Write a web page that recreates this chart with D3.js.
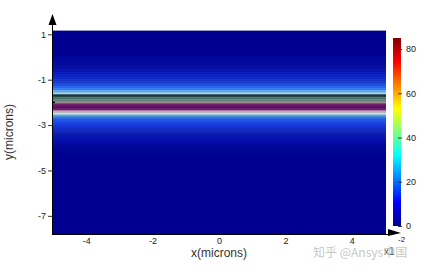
<!DOCTYPE html>
<html>
<head>
<meta charset="utf-8">
<script src="https://cdn.jsdelivr.net/npm/d3@7"></script>
<style>
	body { margin: 0; background: #fff; }
	text { font-family: "Liberation Sans", Arial, sans-serif; }
</style>
</head>
<body>
<div id="chart"></div>
<script>

// mode profile across y (microns), uniform in x
const rowY = [0.0, -0.1, -0.2, -0.3, -0.4, -0.5, -0.6, -0.7, -0.8, -0.9,
	-1.0, -1.1, -1.2, -1.3, -1.4, -1.5, -1.6, -1.7, -1.8, -1.9,
	-2.0, -2.1, -2.2, -2.3, -2.4, -2.5, -2.6, -2.7, -2.8, -2.9,
	-3.0, -3.1, -3.2, -3.3, -3.4, -3.5, -3.6, -3.7, -3.8, -3.9,
	-4.0, -4.1, -4.2];
const rowValue = [1.5, 2, 2.5, 3, 4, 5, 6, 7.5, 9, 11,
	13, 16, 20, 24, 28, 33, 38, 44, 50, 54,
	60, 78, 84, 78, 70, 40, 31, 26, 22, 19,
	16, 14, 12, 10, 8, 6.5, 5, 4, 3, 2.5,
	2, 1.5, 1];

const xTicks = [-4, -2, 0, 2, 4];
const yTicks = [1, -1, -3, -5, -7];
const cbTicks = [0, 20, 40, 60, 80];

// palette as it appears in the rendered field
const fieldStops = [0, 5, 10, 16, 22, 28, 33, 38, 42, 44, 47, 52, 60, 70, 76, 85];
const fieldColors = ['#000090', '#0814b0', '#1028cc', '#1a40e0', '#2458f0', '#3c80f8', '#68b0f8',
	'#a8dcf0', '#d0f4f4', '#183838', '#406860', '#5a8a80', '#a09498', '#dcaab8', '#7a2878', '#601060'];

// jet for the colour bar
const jetStops = [0, 0.125, 0.375, 0.625, 0.875, 1];
const jetColors = ['#00008f', '#0000ff', '#00ffff', '#ffff00', '#ff0000', '#800000'];

const W = 429, H = 272;
const plot = { left: 52, right: 386, top: 30, bottom: 234 };

const svg = d3.select('#chart').append('svg')
	.attr('width', W)
	.attr('height', H);

const scaleX = d3.scaleLinear().domain([-5.03, 5.03]).range([plot.left, plot.right]);
const scaleY = d3.scaleLinear().domain([1.19, -7.8]).range([plot.top, plot.bottom]);
const fieldColor = d3.scaleLinear().domain(fieldStops).range(fieldColors).clamp(true);

const rowH = Math.abs(scaleY(0) - scaleY(0.1));
const fieldW = scaleX(5.03) - scaleX(-5.03);

// background field (value 0)
svg.append('rect')
	.attr('x', scaleX(-5.03))
	.attr('y', scaleY(1.19))
	.attr('width', fieldW)
	.attr('height', scaleY(-7.8) - scaleY(1.19))
	.attr('fill', fieldColor(0));

let rows = svg.append('g').selectAll('g')
	.data(rowY)
	.enter().append('g');

rows.append('rect')
	.attr('x', scaleX(-5.03))
	.attr('y', (d) => scaleY(d) - rowH / 2)
	.attr('width', fieldW)
	.attr('height', rowH + 0.3)
	.attr('fill', (d, i) => fieldColor(rowValue[i]));

// contour-like darker seam under each row
rows.append('rect')
	.attr('x', scaleX(-5.03))
	.attr('y', (d) => scaleY(d) + rowH / 2 - 0.8)
	.attr('width', fieldW)
	.attr('height', 0.8)
	.attr('fill', (d, i) => d3.color(fieldColor(rowValue[i])).darker(0.6))
	.attr('opacity', (d, i) => rowValue[i] > 3 ? 0.8 : 0.3);

// thin light line on the top edge
svg.append('line')
	.attr('x1', plot.left).attr('x2', plot.right)
	.attr('y1', plot.top + 0.5).attr('y2', plot.top + 0.5)
	.attr('stroke', '#9a9ac8').attr('stroke-width', 1);

//--------------------------------------------------------------
// axes
//--------------------------------------------------------------
const yAxis = svg.append('g')
	.attr('transform', `translate(${plot.left},0)`)
	.call(d3.axisLeft(scaleY).tickValues(yTicks).tickSize(4).tickPadding(2).tickFormat((d) => String(d)));
yAxis.select('.domain').remove();
yAxis.selectAll('text').style('font-size', '9px').style('fill', '#222');
yAxis.selectAll('line').attr('stroke', '#333');

// small inner tick at -2
svg.append('line')
	.attr('x1', plot.left).attr('x2', plot.left + 3)
	.attr('y1', scaleY(-2)).attr('y2', scaleY(-2))
	.attr('stroke', '#000').attr('stroke-width', 1.5);

const xAxis = svg.append('g')
	.attr('transform', `translate(0,${plot.bottom})`)
	.call(d3.axisBottom(scaleX).tickValues(xTicks).tickSize(0).tickPadding(4).tickFormat((d) => String(d)));
xAxis.select('.domain').remove();
xAxis.selectAll('text').style('font-size', '9px').style('fill', '#222');

// axis lines with arrows
svg.append('line')
	.attr('x1', plot.left + 0.5).attr('x2', plot.left + 0.5)
	.attr('y1', 20).attr('y2', plot.bottom)
	.attr('stroke', '#000').attr('stroke-width', 1);
svg.append('path')
	.attr('d', `M${plot.left + 0.5},14 L${plot.left - 3.5},25 L${plot.left + 4.5},25 Z`)
	.attr('fill', '#000');

svg.append('line')
	.attr('x1', plot.left).attr('x2', 392)
	.attr('y1', plot.bottom + 0.5).attr('y2', plot.bottom + 0.5)
	.attr('stroke', '#000').attr('stroke-width', 1);
svg.append('path')
	.attr('d', `M401,${plot.bottom - 1} L388,${plot.bottom - 5} L388,${plot.bottom + 2} Z`)
	.attr('fill', '#000');

svg.append('text')
	.attr('x', 219).attr('y', 257)
	.style('text-anchor', 'middle')
	.style('font-size', '12px')
	.style('fill', '#333')
	.text('x(microns)');

svg.append('text')
	.attr('transform', `translate(13,${132}) rotate(-90)`)
	.style('text-anchor', 'middle')
	.style('font-size', '12px')
	.style('fill', '#333')
	.text('y(microns)');

// x10^-2 exponent
svg.append('text')
	.attr('x', 398).attr('y', 242)
	.style('font-size', '8px')
	.style('fill', '#222')
	.text('-2');
svg.append('text')
	.attr('x', 384).attr('y', 255)
	.style('font-size', '10px')
	.style('fill', '#555')
	.text('x1');

//--------------------------------------------------------------
// colour bar
//--------------------------------------------------------------
const cb = { left: 393, width: 8, top: 38, bottom: 226 };
const scaleCb = d3.scaleLinear().domain([0, 85]).range([cb.bottom, cb.top]);

const defs = svg.append('defs');
const grad = defs.append('linearGradient')
	.attr('id', 'jet')
	.attr('x1', 0).attr('y1', 1).attr('x2', 0).attr('y2', 0);
grad.selectAll('stop')
	.data(jetStops)
	.enter().append('stop')
	.attr('offset', (d) => d)
	.attr('stop-color', (d, i) => jetColors[i]);

svg.append('rect')
	.attr('x', cb.left)
	.attr('y', scaleCb(85))
	.attr('width', cb.width)
	.attr('height', scaleCb(0) - scaleCb(85))
	.attr('fill', 'url(#jet)');

const cbAxis = svg.append('g')
	.attr('transform', `translate(${cb.left + cb.width},0)`)
	.call(d3.axisRight(scaleCb).tickValues(cbTicks).tickSize(4).tickPadding(1));
cbAxis.select('.domain').remove();
cbAxis.selectAll('text').style('font-size', '9px').style('fill', '#222');
cbAxis.selectAll('line').attr('stroke', '#333').attr('transform', 'translate(-3,0)');

// watermark
svg.append('text')
	.attr('x', 313).attr('y', 257)
	.style('font-family', '"Noto Sans CJK SC", sans-serif')
	.style('font-size', '12px')
	.style('fill', '#bbb')
	.style('fill-opacity', 0.85)
	.text('知乎 @Ansys中国');

</script>
</body>
</html>
